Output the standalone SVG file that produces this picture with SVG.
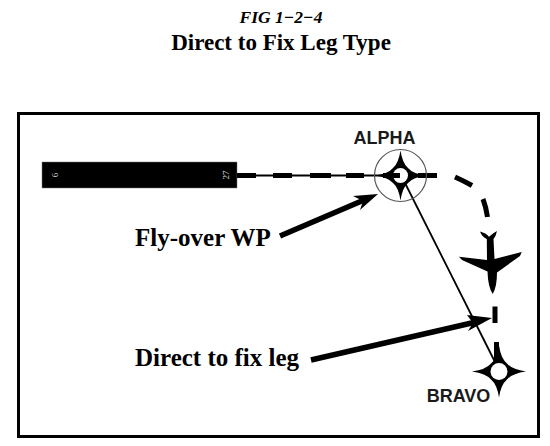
<svg xmlns="http://www.w3.org/2000/svg" width="550" height="446" viewBox="0 0 550 446">
<style>
.h{font-family:"Liberation Serif","Times New Roman",serif;font-weight:bold;fill:#000}
.l{font-family:"Liberation Sans",Arial,sans-serif;font-weight:bold;font-size:18px;fill:#1a1a1a;text-anchor:middle}
.d{fill:none;stroke:#000;stroke-width:5}
.t{fill:none;stroke:#000;stroke-width:1.800}
.a{fill:none;stroke:#000;stroke-width:5.500}
.r{font-family:"Liberation Serif",serif;font-size:9px;fill:#ddd;text-anchor:middle}
.s{fill:#000}
</style>
<rect width="550" height="446" fill="#fff"/>
<text x="281" y="22.500" text-anchor="middle" class="h" font-style="italic" font-size="17.500">FIG 1−2−4</text>
<text x="281" y="50" text-anchor="middle" class="h" font-size="23">Direct to Fix Leg Type</text>
<rect x="18.500" y="113.500" width="520" height="323" fill="none" stroke="#000" stroke-width="3"/>
<g id="runway">
<rect x="42" y="162" width="195" height="26" fill="#000" stroke="#777" stroke-width=".5"/>
<text class="r" transform="translate(55,175) rotate(-90)" y="3">6</text>
<text class="r" transform="translate(226,175) rotate(-90)" y="3">27</text>
</g>
<g id="connectors">
<path class="t" d="M237 175.500H400"/>
<path class="d" d="M237 175.500H256M273 175.500H292M310 175.500H331M346 175.500H364M383 175.500H400M418 175.500H437"/>
<path class="d" d="M455 177Q464 181 472 185.500M483 199Q486 207 487.500 217"/>
<path class="d" d="M495 306.500V323M496.500 342V362"/>
<path class="t" d="M405 183L495 362"/>
<path class="a" d="M280 236L364 200"/>
<path d="M353 196L378 194L360 210L363 201Z" fill="#000"/>
<path class="a" d="M311 360L476 322"/>
<path d="M467 315L492 318L468 331L473 323Z" fill="#000"/>
</g>
<g id="alpha">
<circle cx="400.500" cy="175.500" r="26" fill="none" stroke="#555" stroke-width="1.200"/>
<path class="s" transform="translate(400.500,175.500)" d="M0-25Q2-12 7.500-7.500Q12-2 25 0Q12 2 7.500 7.500Q2 12 0 25Q-2 12-7.500 7.500Q-12 2-25 0Q-12-2-7.500-7.500Q-2-12 0-25Z"/>
<circle cx="400.500" cy="175.500" r="7.500" fill="#fff"/>
<path d="M383 175.500H400" class="d"/>
<text class="l" x="384.500" y="144">ALPHA</text>
</g>
<g id="bravo">
<path class="s" transform="translate(499,371.500)" d="M0-26Q2-13 8-8Q13-2 27 0Q13 2 8 8Q2 13 0 26Q-2 13-8 8Q-13 2-27 0Q-13-2-8-8Q-2-13 0-26Z"/>
<circle cx="499" cy="371.500" r="8.500" fill="#fff"/>
<text class="l" x="458.500" y="402">BRAVO</text>
</g>
<g id="aircraft">
<path d="M480 231.500Q486 233 489 236.700Q493 233 497 231Q496 236 493.500 239L494.500 259L521.700 252L520 256L497 272.500Q497 287 492.700 294Q488 287 487.500 271.500L462 260L459 256.700L487 260L486.800 239Q482 237 480 231.500Z" fill="#000"/>
</g>
<text class="h" x="135" y="246" font-size="25">Fly-over WP</text>
<text class="h" x="135" y="366" font-size="25">Direct to fix leg</text>
</svg>
